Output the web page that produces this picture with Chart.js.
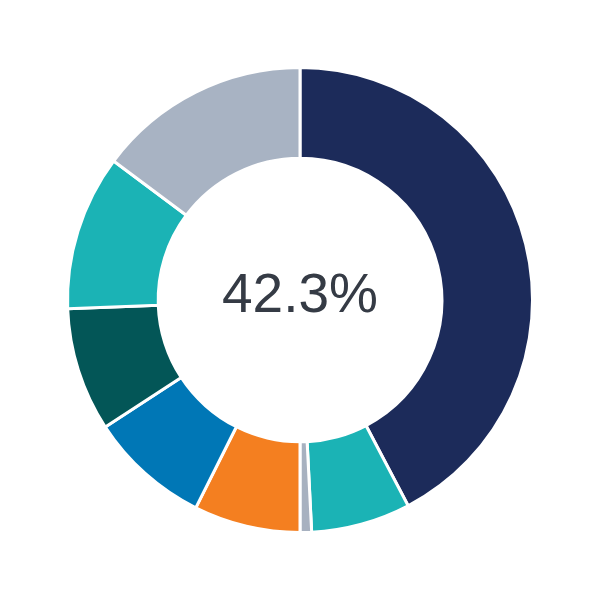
<!DOCTYPE html>
<html>
<head>
<meta charset="utf-8">
<script src="https://cdn.jsdelivr.net/npm/chart.js@4"></script>
<style>
  html, body { margin: 0; padding: 0; background: #fff; }
  #wrap { width: 600px; height: 600px; }
</style>
</head>
<body>
<div id="wrap"><canvas id="chart"></canvas></div>
<script>
const labels = ['A', 'B', 'C', 'D', 'E', 'F', 'G', 'H'];
const shares = [42.3, 6.9, 0.8, 7.4, 8.4, 8.6, 10.8, 14.8];
const colors = ['#1c2b5a', '#1bb3b5', '#a7b1c0', '#f47f20', '#0077b6', '#035657', '#1bb3b5', '#a8b3c3'];
const centerLabel = '42.3%';

const centerText = {
    id: 'centerText',
    afterDraw(chart) {
        const {ctx} = chart;
        const arc = chart.getDatasetMeta(0).data[0];
        ctx.save();
        ctx.font = '55px "Liberation Sans", Arial, sans-serif';
        ctx.fillStyle = '#353b45';
        ctx.textAlign = 'center';
        ctx.textBaseline = 'middle';
        ctx.fillText(centerLabel, arc.x, arc.y - 3);
        ctx.restore();
    }
};

const config = {
    type: 'doughnut',
    data: {
        labels: labels,
        datasets: [{
            data: shares,
            backgroundColor: colors,
            borderColor: '#ffffff',
            borderWidth: 3
        }]
    },
    options: {
        responsive: true,
        maintainAspectRatio: false,
        animation: false,
        cutout: '61%',
        layout: {padding: 66},
        plugins: {
            legend: {display: false},
            tooltip: {enabled: false}
        }
    },
    plugins: [centerText]
};

new Chart(document.getElementById('chart'), config);
</script>
</body>
</html>
